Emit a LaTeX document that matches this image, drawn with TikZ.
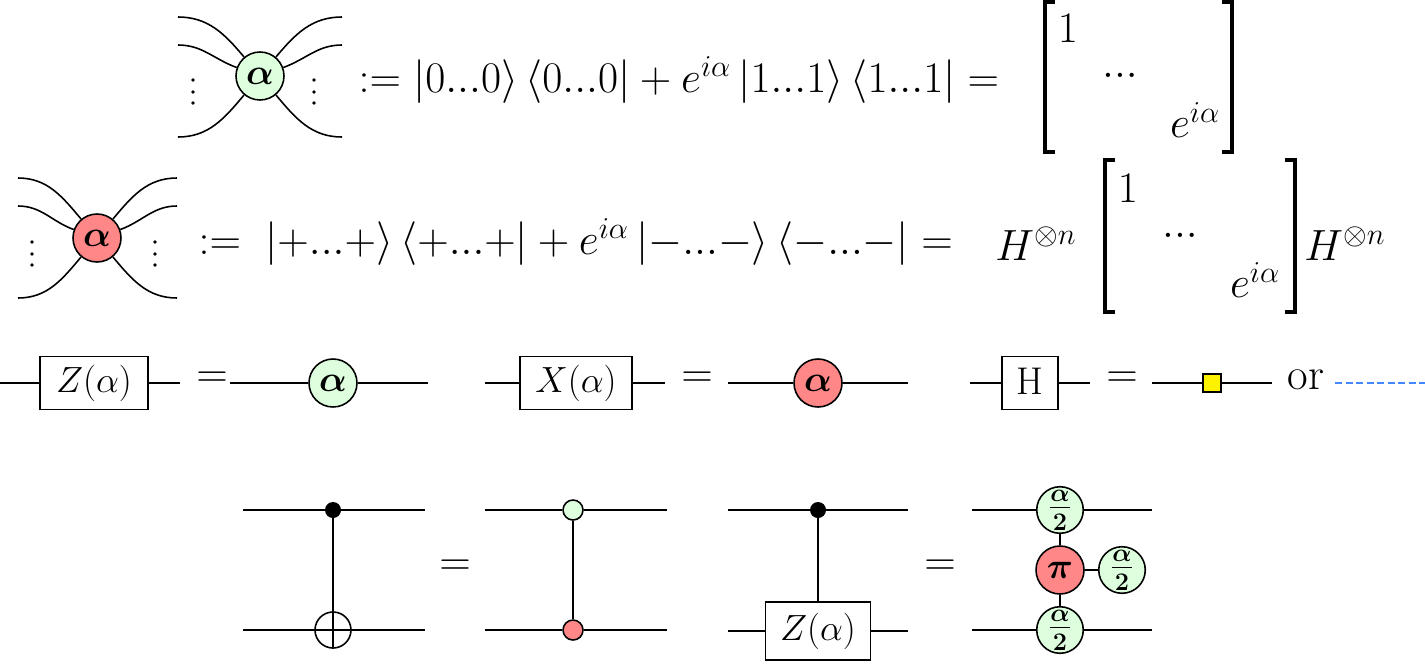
\documentclass[tikz,border=0pt]{standalone}
\usepackage{amsmath,bm}
\begin{document}
\begin{tikzpicture}[x=0.02cm,y=-0.02cm,font=\fontsize{22}{26}\selectfont,line width=0.9pt,
  zs/.style={circle,draw,fill=green!13,minimum size=0.96cm,inner sep=0pt},
  xs/.style={circle,draw,fill=red!47,minimum size=0.96cm,inner sep=0pt},
  gate/.style={draw,minimum height=1.06cm,inner sep=0pt},
  big/.style={font=\fontsize{25.5}{30}\selectfont},
  wire/.style={line width=0.9pt}]
\useasboundingbox (0,0) rectangle (1425,663);
% ---- row 1
\node[zs] (g) at (260,76) {$\bm\alpha$};
\coordinate (ga) at (178,17); \coordinate (gb) at (178,45); \coordinate (gc) at (178,137);
\coordinate (gd) at (342,17); \coordinate (ge) at (342,45); \coordinate (gf) at (342,137);
\draw[wire] (ga) to[out=0,in=130] (g.130);
\draw[wire] (gb) to[out=0,in=160] (g.160);
\draw[wire] (gc) to[out=0,in=230] (g.230);
\draw[wire] (gd) to[out=180,in=50] (g.50);
\draw[wire] (ge) to[out=180,in=20] (g.20);
\draw[wire] (gf) to[out=180,in=310] (g.310);
\foreach \yy in {80,92,103}{\fill (193,\yy) circle (1.9); \fill (314,\yy) circle (1.9);}
\node[anchor=west,big] (t1) at (352,80) {$:=\left|0...0\right\rangle\left\langle0...0\right|+e^{i\alpha}\left|1...1\right\rangle\left\langle1...1\right|=$};
\draw[line width=1.8pt] (1055,2) -- (1045,2) -- (1045,152) -- (1055,152);
\draw[line width=1.8pt] (1222,2) -- (1232,2) -- (1232,152) -- (1222,152);
\node[big] (m11) at (1068,28) {$1$};
\node[big] (m12) at (1120,75) {$...$};
\node[big] (m13) at (1195,120) {$e^{i\alpha}$};
% ---- row 2
\node[xs] (r) at (97,238) {$\bm\alpha$};
\coordinate (ra) at (18,178); \coordinate (rb) at (18,206); \coordinate (rc) at (18,298);
\coordinate (rd) at (177,178); \coordinate (re) at (177,206); \coordinate (rf) at (177,298);
\draw[wire] (ra) to[out=0,in=130] (r.130);
\draw[wire] (rb) to[out=0,in=160] (r.160);
\draw[wire] (rc) to[out=0,in=230] (r.230);
\draw[wire] (rd) to[out=180,in=50] (r.50);
\draw[wire] (re) to[out=180,in=20] (r.20);
\draw[wire] (rf) to[out=180,in=310] (r.310);
\foreach \yy in {242,254,265}{\fill (32,\yy) circle (1.9); \fill (155,\yy) circle (1.9);}
\node[anchor=west,big] (t2) at (192,242) {$:=\;\left|+...+\right\rangle\left\langle+...+\right|+e^{i\alpha}\left|-...-\right\rangle\left\langle-...-\right|=$};
\node[big] (h1) at (1036,244) {$H^{\otimes n}$};
\draw[line width=1.8pt] (1115,160) -- (1105,160) -- (1105,312) -- (1115,312);
\draw[line width=1.8pt] (1285,160) -- (1295,160) -- (1295,312) -- (1285,312);
\node[big] (n11) at (1128,188) {$1$};
\node[big] (n12) at (1180,235) {$...$};
\node[big] (n13) at (1255,280) {$e^{i\alpha}$};
\node[big] (h2) at (1345,244) {$H^{\otimes n}$};
% ---- row 3
\node[gate,minimum width=2.16cm] (zg) at (94,383) {$Z(\alpha)$};
\draw[wire] (0,383) -- (zg.west); \draw[wire] (zg.east) -- (180,383);
\node[big] (eq1) at (212,380) {$=$};
\node[zs] (z3) at (333,383) {$\bm\alpha$};
\draw[wire] (230,383) -- (z3) -- (428,383);
\node[gate,minimum width=2.24cm] (xg) at (576,383) {$X(\alpha)$};
\draw[wire] (485,383) -- (xg.west); \draw[wire] (xg.east) -- (665,383);
\node[big] (eq2) at (697,380) {$=$};
\node[xs] (x3) at (818,383) {$\bm\alpha$};
\draw[wire] (728,383) -- (x3) -- (908,383);
\node[gate,minimum width=1.12cm,text height=0.5cm,text depth=0.05cm] (hg) at (1030,383) {H};
\draw[wire] (970,383) -- (1002,383); \draw[wire] (1058,383) -- (1090,383);
\node[big] (eq3) at (1122,380) {$=$};
\node[draw,fill=yellow,minimum size=0.36cm,inner sep=0pt] (ys) at (1212,383) {};
\draw[wire] (1152,383) -- (ys) -- (1272,383);
\node[big] (or) at (1306,380) {or};
\draw[line width=1.3pt,color={rgb,255:red,68;green,136;blue,255},dash pattern=on 4pt off 2pt] (1335,383) -- (1425,383);
% ---- row 4
\coordinate (c1) at (333,510);
\node[circle,draw,minimum size=0.72cm,inner sep=0pt] (tg) at (333,630) {};
\draw[wire] (243,510) -- (425,510); \draw[wire] (243,630) -- (425,630);
\draw[wire] (c1) -- (tg.south);
\fill (c1) circle (8);
\node[big] (eq4) at (455,568) {$=$};
\node[circle,draw,fill=green!13,minimum size=0.4cm,inner sep=0pt] (sg) at (573,510) {};
\node[circle,draw,fill=red!47,minimum size=0.4cm,inner sep=0pt] (sr) at (573,630) {};
\draw[wire] (485,510) -- (sg) -- (667,510);
\draw[wire] (485,630) -- (sr) -- (667,630);
\draw[wire] (sg) -- (sr);
\coordinate (c2) at (818,510);
\node[gate,minimum width=2.1cm,minimum height=1.16cm,fill=white] (zb) at (818,631) {$Z(\alpha)$};
\draw[wire] (728,510) -- (908,510);
\draw[wire] (728,631) -- (zb.west); \draw[wire] (zb.east) -- (908,631);
\draw[wire] (c2) -- (zb.north);
\fill (c2) circle (8);
\node[big] (eq5) at (940,568) {$=$};
\node[zs,minimum size=0.86cm] (a1) at (1060,510) {$\bm{\frac{\alpha}{2}}$};
\node[xs] (pi) at (1060,570) {$\bm\pi$};
\node[zs,minimum size=0.86cm] (a2) at (1122,570) {$\bm{\frac{\alpha}{2}}$};
\node[zs,minimum size=0.86cm] (a3) at (1060,630) {$\bm{\frac{\alpha}{2}}$};
\draw[wire] (972,510) -- (a1) -- (1152,510);
\draw[wire] (972,630) -- (a3) -- (1152,630);
\draw[wire] (a1) -- (pi) -- (a3); \draw[wire] (pi) -- (a2);
\end{tikzpicture}
\end{document}
